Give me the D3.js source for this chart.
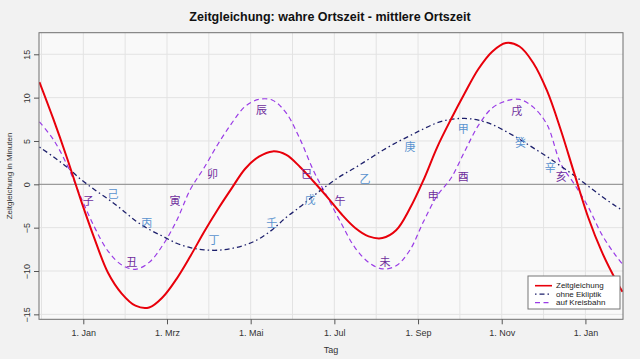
<!DOCTYPE html>
<html>
<head>
<meta charset="utf-8">
<script src="https://cdn.jsdelivr.net/npm/d3@7"></script>
<style>
  html, body { margin: 0; padding: 0; background: #f2f2f2; }
  svg { display: block; font-family: "Liberation Sans", Arial, sans-serif; }
</style>
</head>
<body>
<svg id="chart"></svg>
<script>
// chart size and plot box
const width = 640, height = 359;
const marginTop = 32.7, marginRight = 17, marginBottom = 39.7, marginLeft = 39;

// day offset from 1. Jan
const days = [-32, -22, -12, -2, 8, 18, 28, 38, 48, 58, 68, 78, 88, 98, 108, 118, 128, 138, 148, 158,
  168, 178, 188, 198, 208, 218, 228, 238, 248, 258, 268, 278, 288, 298, 308, 318, 328, 338, 348, 358,
  368, 378, 388, 393];

// minutes
const zeitgleichung = [11.8, 7.6, 3.1, -1.7, -6.2, -10.2, -12.6, -14.0, -14.2, -13.0, -10.9, -8.3, -5.5, -2.9,
  -0.5, 1.8, 3.2, 3.8, 3.4, 2.0, 0.3, -1.5, -3.4, -5.0, -6.0, -6.2, -5.3, -2.8, 0.5, 4.3, 7.5, 10.5, 13.3,
  15.3, 16.3, 15.9, 14.0, 10.8, 6.3, 1.2, -3.8, -7.8, -11.0, -12.4];
const ohneEkliptik = [4.3, 3.2, 2.0, 0.6, -0.6, -1.7, -2.9, -4.2, -5.2, -6.0, -6.8, -7.3, -7.55, -7.6, -7.4,
  -7.0, -6.3, -5.2, -3.8, -2.6, -1.3, -0.1, 1.0, 1.9, 2.9, 3.9, 4.8, 5.6, 6.4, 7.1, 7.5, 7.6, 7.4, 6.9, 6.1,
  5.2, 4.2, 3.2, 2.1, 1.0, -0.2, -1.4, -2.5, -3.0];
const aufKreisbahn = [7.2, 5.2, 2.3, -1.4, -4.9, -7.7, -9.3, -9.8, -9.0, -7.0, -4.2, -0.6, 1.9, 4.6, 7.0, 9.0,
  9.8, 9.7, 8.2, 5.2, 1.5, -1.5, -4.5, -7.3, -9.0, -9.75, -9.4, -7.6, -4.3, -1.3, 0.7, 3.8, 6.8, 8.8, 9.6,
  9.8, 8.9, 6.9, 2.4, 0.0, -2.6, -5.8, -8.2, -9.2];

// axes
const xTickDays = [0, 61, 122, 183, 244, 305, 366];
const xTickLabels = ["1. Jan", "1. Mrz", "1. Mai", "1. Jul", "1. Sep", "1. Nov", "1. Jan"];
const yTicks = [-15, -10, -5, 0, 5, 10, 15];

// character annotations: [char, day, minutes]
const branches = [["子", 3.6, -1.8], ["丑", 35.3, -8.85], ["寅", 66.8, -1.8], ["卯", 94.2, 1.25],
  ["辰", 129.9, 8.74], ["巳", 162.8, 1.27], ["午", 187.1, -1.8], ["未", 219.9, -8.85],
  ["申", 255.1, -1.23], ["酉", 277, 0.96], ["戌", 315.9, 8.57], ["亥", 348.4, 0.95]];
const stems = [["己", 21.6, -0.95], ["丙", 46.2, -4.31], ["丁", 95.3, -6.34], ["壬", 137.3, -4.31],
  ["戊", 165.2, -1.64], ["乙", 205.3, 0.78], ["庚", 238.1, 4.42], ["甲", 277, 6.46],
  ["癸", 318.6, 4.91], ["辛", 340.4, 1.95]];

const series = [
  { name: "Zeitgleichung", values: zeitgleichung, color: "#e8000b", width: 2, dash: null },
  { name: "ohne Ekliptik", values: ohneEkliptik, color: "#1c1f6b", width: 1.3, dash: "1.5,3,5,3" },
  { name: "auf Kreisbahn", values: aufKreisbahn, color: "#9a3ce6", width: 1.2, dash: "5,3.5" }
];

const x = d3.scaleLinear([-32.3, 393.4], [marginLeft, width - marginRight]);
const y = d3.scaleLinear([-15.57, 17.49], [height - marginBottom, marginTop]);

const svg = d3.select("#chart")
  .attr("width", width)
  .attr("height", height)
  .attr("viewBox", [0, 0, width, height]);

// plot background
svg.append("rect")
  .attr("x", marginLeft).attr("y", marginTop)
  .attr("width", width - marginLeft - marginRight)
  .attr("height", height - marginTop - marginBottom)
  .attr("fill", "#f9f9f9");

// grid
const gridDays = d3.range(-30.5, 394, 30.5);
svg.append("g")
  .selectAll("line")
  .data(gridDays)
  .join("line")
    .attr("x1", d => x(d)).attr("x2", d => x(d))
    .attr("y1", marginTop).attr("y2", height - marginBottom)
    .attr("stroke", "#e3e3e3");
svg.append("g")
  .selectAll("line")
  .data(yTicks)
  .join("line")
    .attr("x1", marginLeft).attr("x2", width - marginRight)
    .attr("y1", d => y(d)).attr("y2", d => y(d))
    .attr("stroke", "#e3e3e3");

// zero line
svg.append("line")
  .attr("x1", marginLeft).attr("x2", width - marginRight)
  .attr("y1", y(0)).attr("y2", y(0))
  .attr("stroke", "#8a8a8a");

// curves
const line = d3.line()
  .x((d, i) => x(days[i]))
  .y(d => y(d))
  .curve(d3.curveCatmullRom);

svg.append("clipPath").attr("id", "plot-clip")
  .append("rect")
  .attr("x", marginLeft).attr("y", marginTop)
  .attr("width", width - marginLeft - marginRight)
  .attr("height", height - marginTop - marginBottom);

svg.append("g")
  .attr("clip-path", "url(#plot-clip)")
  .selectAll("path")
  .data(series.slice().reverse())
  .join("path")
    .attr("fill", "none")
    .attr("stroke", d => d.color)
    .attr("stroke-width", d => d.width)
    .attr("stroke-dasharray", d => d.dash)
    .attr("d", d => line(d.values));

// Chinese characters
const charFont = "'Noto Sans CJK SC', 'Noto Sans CJK TC', sans-serif";
svg.append("g")
  .selectAll("text")
  .data(stems)
  .join("text")
    .attr("x", d => x(d[1])).attr("y", d => y(d[2]))
    .attr("text-anchor", "middle")
    .attr("dominant-baseline", "central")
    .attr("font-family", charFont)
    .attr("font-size", 11)
    .attr("fill", "#5a93cf")
    .text(d => d[0]);
svg.append("g")
  .selectAll("text")
  .data(branches)
  .join("text")
    .attr("x", d => x(d[1])).attr("y", d => y(d[2]))
    .attr("text-anchor", "middle")
    .attr("dominant-baseline", "central")
    .attr("font-family", charFont)
    .attr("font-size", 11)
    .attr("fill", "#6e2d9c")
    .text(d => d[0]);

// frame
svg.append("rect")
  .attr("x", marginLeft).attr("y", marginTop)
  .attr("width", width - marginLeft - marginRight)
  .attr("height", height - marginTop - marginBottom)
  .attr("fill", "none")
  .attr("stroke", "#6f6f6f");

// x axis
svg.append("g")
  .attr("transform", `translate(0,${height - marginBottom})`)
  .call(d3.axisBottom(x).tickValues(xTickDays).tickFormat((d, i) => xTickLabels[i]).tickSize(5).tickPadding(5))
  .call(g => g.select(".domain").remove())
  .call(g => g.selectAll(".tick line").attr("stroke", "#555"))
  .call(g => g.selectAll(".tick text").attr("font-size", 9).attr("fill", "#333")
    .attr("font-family", "'Liberation Sans', Arial, sans-serif"));

// y axis, labels turned like R does
svg.append("g")
  .attr("transform", `translate(${marginLeft},0)`)
  .call(d3.axisLeft(y).tickValues(yTicks).tickSize(5))
  .call(g => g.select(".domain").remove())
  .call(g => g.selectAll(".tick line").attr("stroke", "#555"))
  .call(g => g.selectAll(".tick text")
    .attr("transform", "rotate(-90)")
    .attr("x", 0).attr("y", -9).attr("dy", 0)
    .attr("text-anchor", "middle")
    .attr("font-size", 9).attr("fill", "#333")
    .attr("font-family", "'Liberation Sans', Arial, sans-serif"));

// titles
svg.append("text")
  .attr("x", 330).attr("y", 21)
  .attr("text-anchor", "middle")
  .attr("font-size", 12.5).attr("font-weight", "bold").attr("fill", "#111")
  .text("Zeitgleichung: wahre Ortszeit - mittlere Ortszeit");
svg.append("text")
  .attr("x", (marginLeft + width - marginRight) / 2).attr("y", 353)
  .attr("text-anchor", "middle")
  .attr("font-size", 9).attr("fill", "#333")
  .text("Tag");
svg.append("text")
  .attr("transform", `translate(12,${(marginTop + height - marginBottom) / 2}) rotate(-90)`)
  .attr("text-anchor", "middle")
  .attr("font-size", 8).attr("fill", "#333")
  .text("Zeitgleichung in Minuten");

// legend
const legend = svg.append("g").attr("transform", "translate(528,276)");
legend.append("rect")
  .attr("width", 92).attr("height", 33)
  .attr("fill", "#ffffff").attr("stroke", "#777");
const item = legend.selectAll("g")
  .data(series)
  .join("g")
    .attr("transform", (d, i) => `translate(0,${9.7 + i * 8.5})`);
item.append("line")
  .attr("x1", 7).attr("x2", 24)
  .attr("stroke", d => d.color)
  .attr("stroke-width", d => d.width === 2 ? 1.6 : 1.2)
  .attr("stroke-dasharray", d => d.dash);
item.append("text")
  .attr("x", 28).attr("dy", "0.32em")
  .attr("font-size", 8).attr("fill", "#222")
  .text(d => d.name);
</script>
</body>
</html>
